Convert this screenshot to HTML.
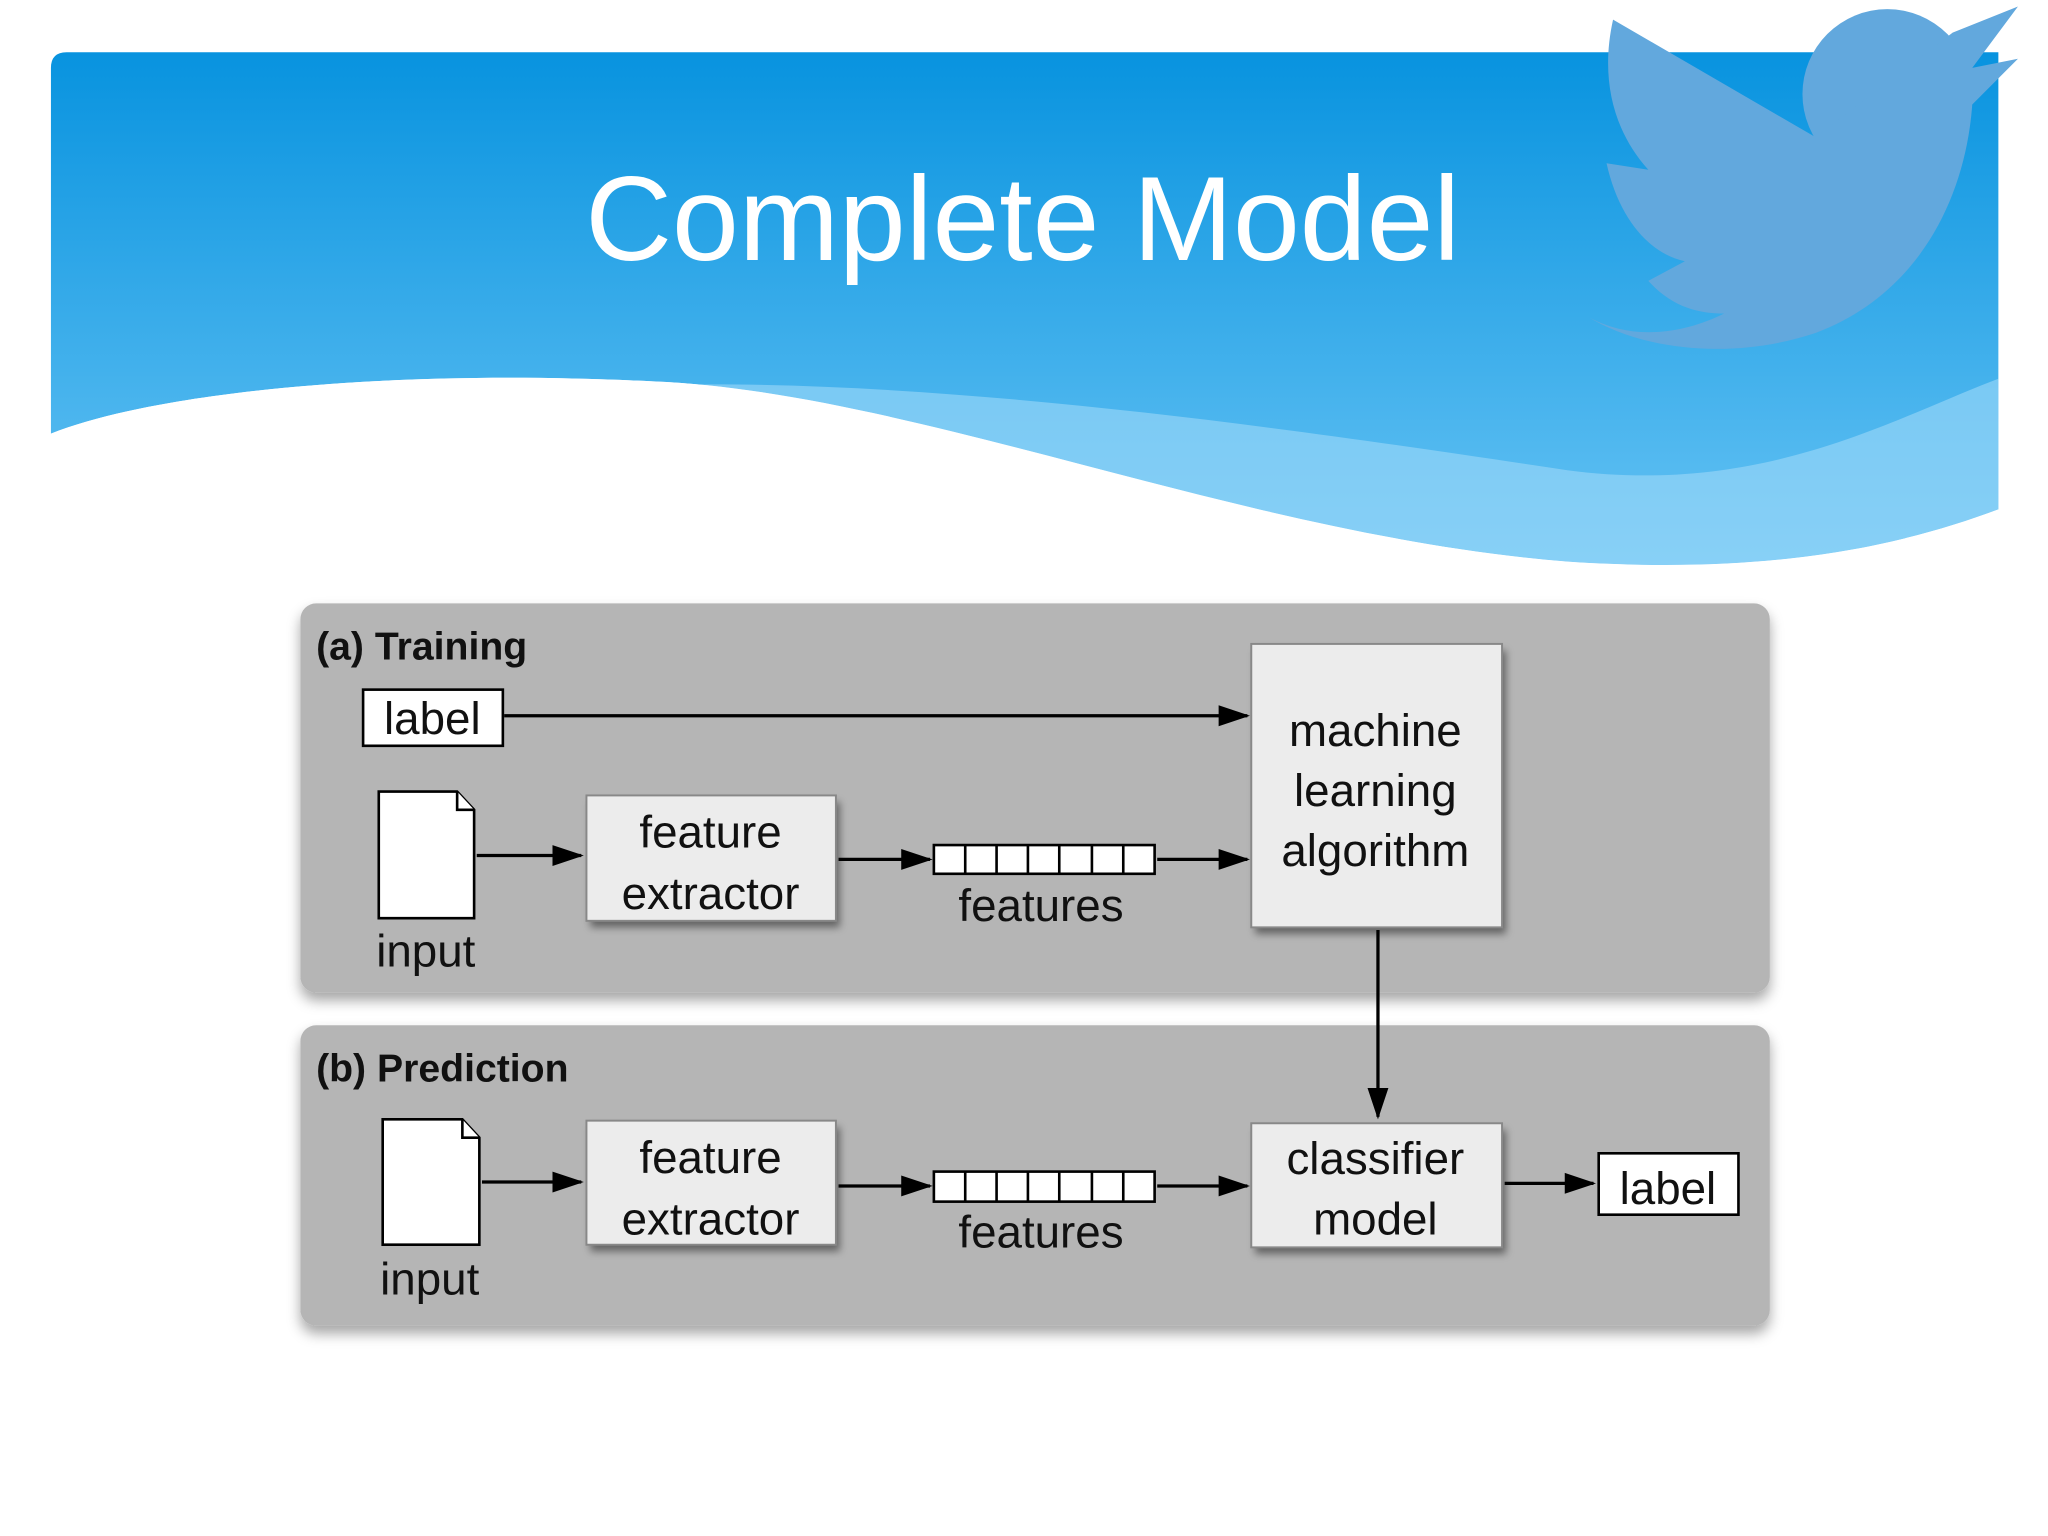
<!DOCTYPE html>
<html><head><meta charset="utf-8"><style>html,body{margin:0;padding:0;background:#fff}svg{display:block}</style></head>
<body>
<svg width="2048" height="1536" viewBox="0 0 1568 1176" xmlns="http://www.w3.org/2000/svg" font-family="Liberation Sans, sans-serif">
<defs>
<linearGradient id="bg" x1="0" y1="0" x2="0" y2="1">
<stop offset="0" stop-color="#0893df"/><stop offset="1" stop-color="#66c3f4"/></linearGradient>
<filter id="sh" x="-5%" y="-5%" width="110%" height="115%"><feDropShadow dx="0" dy="6" stdDeviation="5" flood-color="#000" flood-opacity="0.35"/></filter>
<filter id="sh2" x="-10%" y="-10%" width="125%" height="130%"><feDropShadow dx="3" dy="5" stdDeviation="3" flood-color="#000" flood-opacity="0.45"/></filter>
<marker id="ar" markerWidth="24" markerHeight="18" refX="22" refY="9" orient="auto" markerUnits="userSpaceOnUse" viewBox="0 0 24 18"><path d="M0,1 L24,9 L0,17 Z" fill="#000"/></marker>
</defs>
<path d="M39,52 Q39,40 51,40 L1530,40 L1530,390 C1450,420 1350,440 1200,430 C950,410 700,300 500,292 C300,282 120,300 39,332 Z" fill="url(#bg)"/>
<path d="M470,296 C700,285 1000,330 1200,360 C1350,380 1450,320 1530,290 L1530,390 C1450,420 1350,440 1200,430 C950,410 700,300 470,296Z" fill="#9fd8f8" opacity="0.6"/>
<path d="M39,332 C120,300 300,282 500,292 C700,300 950,410 1200,430 C1350,440 1450,420 1530,390 L1530,460 L39,460 Z" fill="#fff"/>
<text x="783" y="199" text-anchor="middle" font-size="92" fill="#fff">Complete Model</text>
<g fill="#62a8dd">
<circle cx="1445" cy="72" r="65"/>
<path d="M1390,105 L1235,15 C1225,60 1235,100 1262,130 L1230,125 C1240,170 1265,195 1290,200 L1262,215 C1280,235 1300,240 1320,240 C1290,255 1250,262 1215,242 C1260,270 1330,275 1390,255 C1470,225 1505,150 1510,80 L1545,45 L1510,52 L1545,5 L1495,25 Z"/>
</g>
<rect x="230" y="462" width="1125" height="298" rx="12" fill="#b5b5b5" filter="url(#sh)"/>
<rect x="230" y="785" width="1125" height="230" rx="12" fill="#b5b5b5" filter="url(#sh)"/>
<g font-size="30" font-weight="bold" fill="#111">
<text x="242" y="505">(a) Training</text>
<text x="242" y="828">(b) Prediction</text></g>
<g stroke="#000" stroke-width="2.5" fill="none" marker-end="url(#ar)">
<line x1="386" y1="548" x2="955" y2="548"/>
<line x1="365" y1="655" x2="445" y2="655"/>
<line x1="642" y1="658" x2="712" y2="658"/>
<line x1="886" y1="658" x2="955" y2="658"/>
<line x1="1055" y1="712" x2="1055" y2="855"/>
<line x1="369" y1="905" x2="445" y2="905"/>
<line x1="642" y1="908" x2="712" y2="908"/>
<line x1="886" y1="908" x2="955" y2="908"/>
<line x1="1152" y1="906" x2="1220" y2="906"/>
</g>
<g fill="#ececec" filter="url(#sh2)">
<rect x="958" y="493" width="192" height="217"/>
<rect x="449" y="609" width="191" height="96"/>
<rect x="449" y="858" width="191" height="95"/>
<rect x="958" y="860" width="192" height="95"/>
</g>
<g fill="none" stroke="#888" stroke-width="1.5">
<rect x="958" y="493" width="192" height="217"/><rect x="449" y="609" width="191" height="96"/>
<rect x="449" y="858" width="191" height="95"/><rect x="958" y="860" width="192" height="95"/></g>
<g fill="#fff" stroke="#000" stroke-width="2">
<rect x="278" y="528" width="107" height="43"/>
<rect x="1224" y="883" width="107" height="47"/>
<path d="M290,606 L350,606 L363,620 L363,703 L290,703 Z"/>
<path d="M350,606 L350,620 L363,620"/>
<path d="M293,857 L354,857 L367,871 L367,953 L293,953 Z"/>
<path d="M354,857 L354,871 L367,871"/>
<rect x="715" y="647" width="169" height="22"/>
<rect x="715" y="897" width="169" height="23"/>
<path d="M739,647v22M763,647v22M787,647v22M811,647v22M836,647v22M860,647v22M739,897v23M763,897v23M787,897v23M811,897v23M836,897v23M860,897v23"/>
</g>
<g font-size="35" fill="#111" text-anchor="middle">
<text x="331" y="562">label</text>
<text x="1277" y="922">label</text>
<text x="1053" y="571">machine</text>
<text x="1053" y="617">learning</text>
<text x="1053" y="663">algorithm</text>
<text x="544" y="649">feature</text>
<text x="544" y="696">extractor</text>
<text x="544" y="898">feature</text>
<text x="544" y="945">extractor</text>
<text x="1053" y="899">classifier</text>
<text x="1053" y="945">model</text>
<text x="797" y="705">features</text>
<text x="797" y="955">features</text>
<text x="326" y="740">input</text>
<text x="329" y="991">input</text>
</g>
</svg>
</body></html>
